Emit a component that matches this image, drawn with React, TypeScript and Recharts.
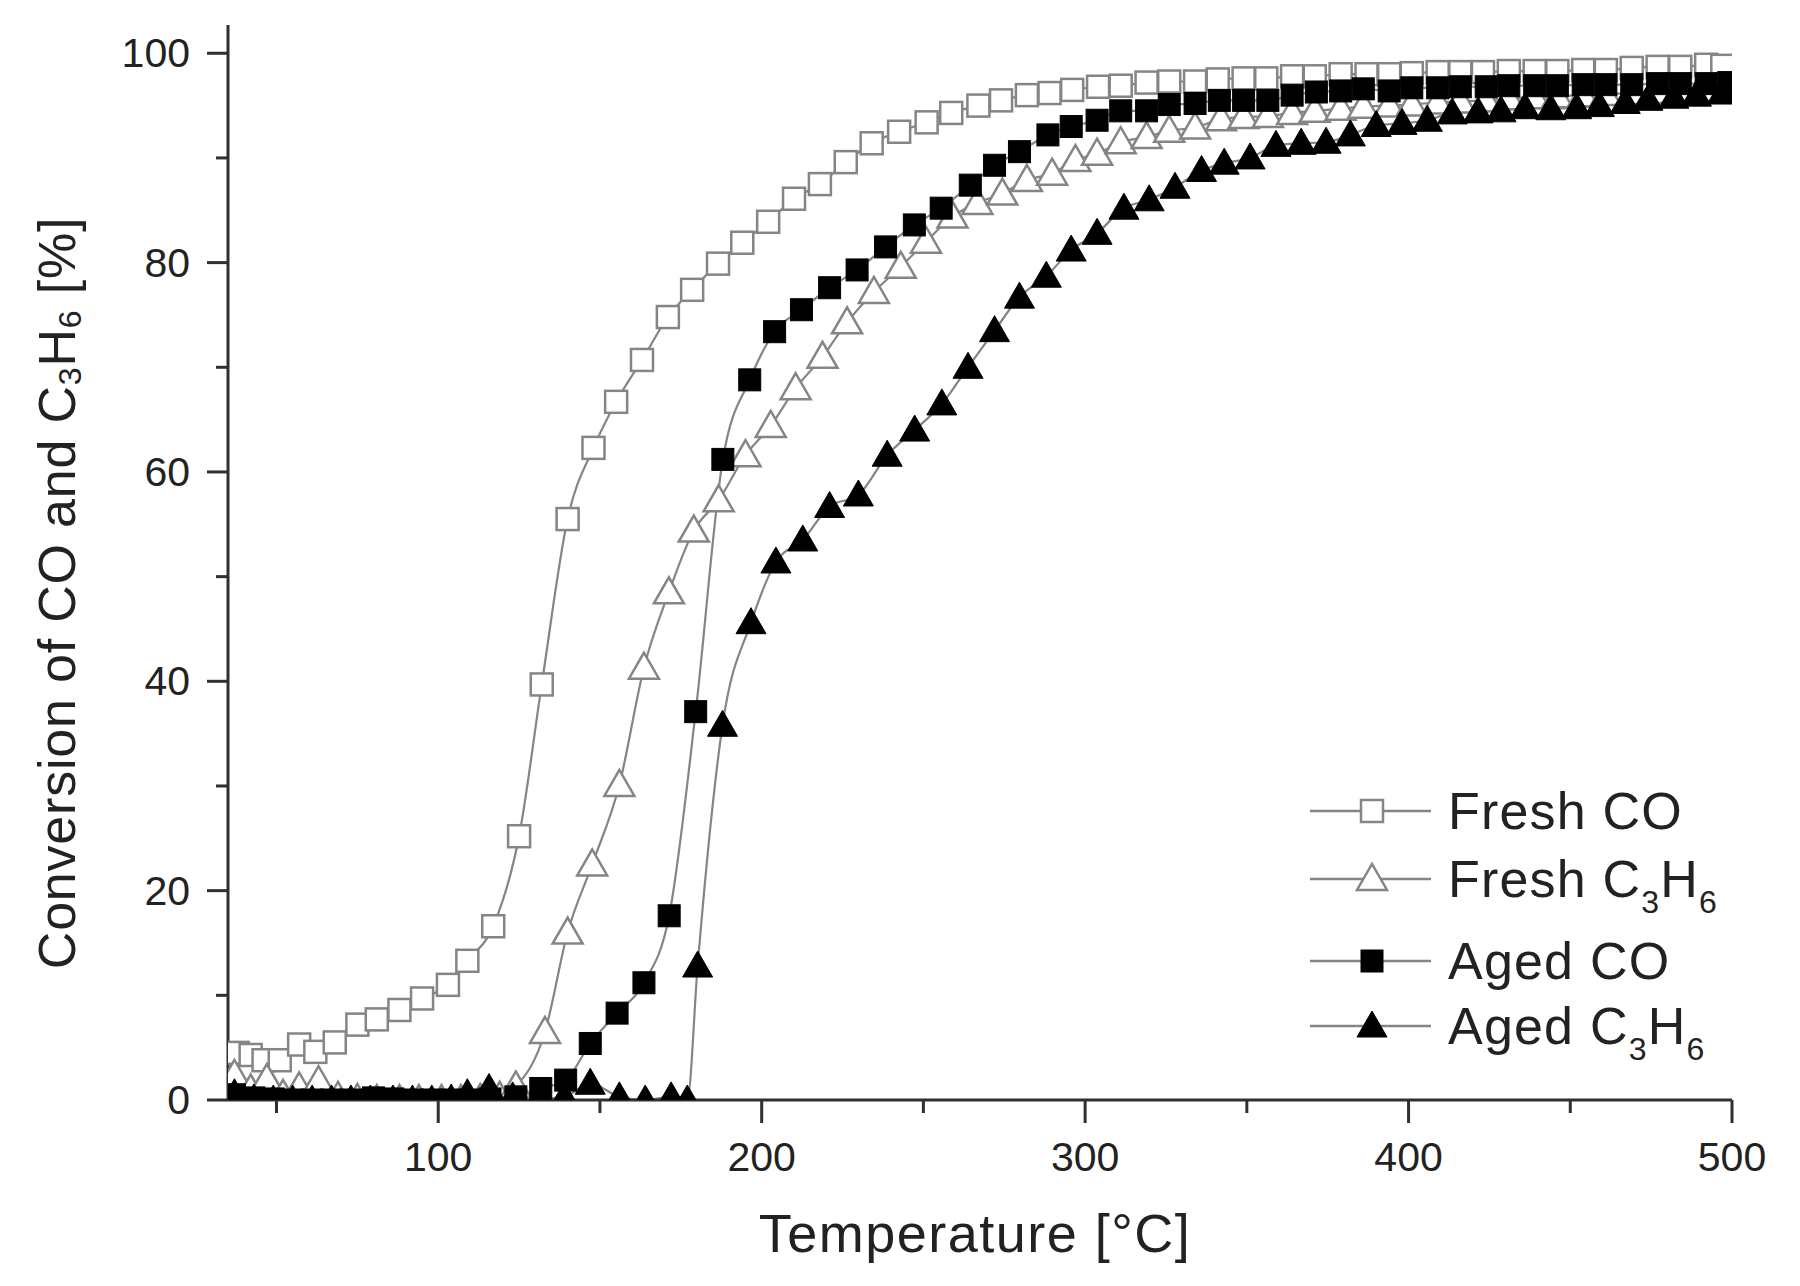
import React from "react";
import { LineChart, Line, XAxis, YAxis, Legend } from "recharts";

// temperatures [°C] and conversions [%]
const freshCOTemp = [38, 42, 46, 51, 57, 62, 68, 75, 81, 88, 95, 103, 109, 117, 125, 132, 140, 148, 155, 163, 171, 178.5, 186.5, 194, 202, 210, 218, 226, 234, 242.5, 251, 258.6, 267, 274, 282, 289, 296, 304, 311, 319, 326, 334, 341, 349, 356, 364, 371, 379, 387, 394, 401, 409, 416, 423, 431, 439, 446, 454, 461, 469, 477, 484, 492, 497];
const freshCOConv = [4.5, 4.3, 3.8, 3.8, 5.3, 4.6, 5.5, 7.2, 7.7, 8.6, 9.7, 11.0, 13.3, 16.6, 25.2, 39.7, 55.5, 62.3, 66.7, 70.7, 74.8, 77.4, 79.9, 81.9, 83.9, 86.1, 87.5, 89.6, 91.4, 92.5, 93.4, 94.3, 95.0, 95.5, 96.0, 96.2, 96.5, 96.8, 96.9, 97.2, 97.3, 97.3, 97.5, 97.6, 97.6, 97.8, 97.8, 98.0, 98.0, 98.0, 98.1, 98.2, 98.2, 98.2, 98.3, 98.3, 98.3, 98.4, 98.4, 98.6, 98.7, 98.7, 98.9, 98.8];

const freshC3H6Temp = [37, 42, 47, 52, 57, 63, 69, 75, 81, 88, 94, 101, 107, 113, 119, 124, 133, 140, 147.6, 156, 163.6, 171.3, 179, 186.7, 195, 202.8, 210.5, 218.8, 226.4, 234.7, 243, 250.8, 259, 266.7, 274.4, 282, 289.8, 297, 303.7, 311, 319, 326, 334, 342, 349, 356.5, 364, 371, 379, 386, 394, 401, 409, 416, 424, 431, 439, 446, 454, 461, 469, 477, 484, 492, 499];
const freshC3H6Conv = [2.4, 1.0, 2.0, 0.5, 1.2, 1.8, 0.3, 0.1, 0, 0, 0, 0, 0, 0.1, 0.3, 1.3, 6.5, 16.0, 22.5, 30.1, 41.3, 48.5, 54.4, 57.3, 61.6, 64.4, 68.0, 71.0, 74.3, 77.2, 79.6, 82.0, 84.4, 85.7, 86.6, 87.9, 88.5, 89.8, 90.4, 91.5, 92.0, 92.6, 92.9, 93.7, 93.9, 94.0, 94.3, 94.5, 94.7, 94.9, 95.0, 95.1, 95.3, 95.4, 95.5, 95.7, 95.8, 95.9, 96.0, 96.1, 96.2, 96.3, 96.4, 96.5, 96.6];

const agedCOTemp = [37, 43, 49, 55, 61, 67, 73, 80, 86, 92, 98, 104, 110, 116, 124, 131.7, 139.4, 147, 155.3, 163.6, 171.4, 179.6, 188, 196.3, 204, 212.3, 221, 229.5, 238.3, 247.2, 255.5, 264.5, 272, 279.7, 288.5, 295.7, 303.7, 311, 319, 326, 334, 341.5, 349, 356.5, 364, 371.5, 379, 386, 394, 401, 409, 416, 424, 431, 439, 446, 454, 461, 469, 477, 484, 492, 499];
const agedCOConv = [0.5, 0.2, 0.1, 0, 0, 0, 0, 0.2, 0.1, 0, 0, 0, 0, 0.1, 0.3, 1.1, 1.9, 5.4, 8.3, 11.2, 17.6, 37.1, 61.2, 68.8, 73.4, 75.5, 77.6, 79.3, 81.5, 83.6, 85.2, 87.4, 89.3, 90.6, 92.2, 93.0, 93.6, 94.5, 94.5, 95.1, 95.2, 95.5, 95.5, 95.5, 96.0, 96.3, 96.4, 96.6, 96.4, 96.7, 96.7, 96.8, 96.8, 96.9, 96.9, 96.9, 97.0, 97.0, 97.0, 97.1, 97.1, 97.1, 97.2];

const agedC3H6Temp = [37, 43, 49, 55, 61, 67, 73, 79, 86, 92, 98, 104, 109, 115.7, 123, 131, 139, 147, 156, 164, 172, 177, 180.2, 187.9, 196.7, 204.4, 212.7, 221, 229.9, 238.8, 247.3, 255.7, 263.8, 272, 279.7, 288, 295.7, 303.7, 312, 319.8, 327.8, 336, 343, 351, 359, 366.8, 374.5, 382, 390, 398, 405.8, 413.5, 421.5, 428.6, 436, 444, 452, 459, 467, 474, 482, 489, 497];
const agedC3H6Conv = [0.6, 0.1, 0, 0, 0, 0, 0, 0, 0, 0, 0, 0.1, 0.6, 1.1, 0.3, 0.1, 0.3, 1.6, 0.3, 0, 0.3, 0, 12.8, 35.8, 45.6, 51.4, 53.5, 56.7, 57.8, 61.6, 64.0, 66.5, 70.0, 73.5, 76.7, 78.7, 81.2, 82.8, 85.2, 86.0, 87.2, 88.8, 89.5, 90.0, 91.2, 91.4, 91.5, 92.2, 93.1, 93.3, 93.6, 94.3, 94.4, 94.5, 94.8, 94.7, 94.8, 95.0, 95.3, 95.6, 95.8, 96.0, 96.2];

const xTicks = [50, 100, 150, 200, 250, 300, 350, 400, 450, 500];
const yTicks = [0, 10, 20, 30, 40, 50, 60, 70, 80, 90, 100];

const toPoints = (temp: number[], conv: number[]) => temp.map((t, i) => ({ t, v: conv[i] }));

const FONT = "'Liberation Sans', Arial, sans-serif";
const TEXT = "#222";
const AXIS = "#303030";
const LINE = "#858585";

// markers
const HollowSquare = ({ cx, cy }: any) => (
  <rect x={cx - 11} y={cy - 11} width={22} height={22} fill="#fff" stroke={LINE} strokeWidth={2.5} />
);
const HollowTriangle = ({ cx, cy }: any) => (
  <polygon points={`${cx},${cy - 15} ${cx - 15},${cy + 11} ${cx + 15},${cy + 11}`} fill="#fff" stroke={LINE} strokeWidth={2.5} />
);
const FilledSquare = ({ cx, cy }: any) => (
  <rect x={cx - 11} y={cy - 11} width={22} height={22} fill="#000" stroke="#000" strokeWidth={1} />
);
const FilledTriangle = ({ cx, cy }: any) => (
  <polygon points={`${cx},${cy - 15} ${cx - 15},${cy + 11} ${cx + 15},${cy + 11}`} fill="#000" stroke="#000" strokeWidth={1} />
);

const markerFor: Record<string, any> = {
  freshCO: HollowSquare,
  freshC3H6: HollowTriangle,
  agedCO: FilledSquare,
  agedC3H6: FilledTriangle,
};

const dotFor = (id: string) => (p: any) => {
  const M = markerFor[id];
  if (p.cx == null || p.cy == null) return <g key={`${id}-${p.index}`} />;
  return (
    <g key={`${id}-${p.index}`}>
      <M cx={p.cx} cy={p.cy} />
    </g>
  );
};

const XTick = ({ x, y, payload }: any) => {
  const major = payload.value % 100 === 0;
  return (
    <g>
      <line x1={x} x2={x} y1={y} y2={y + (major ? 23 : 13)} stroke={AXIS} strokeWidth={3} />
      {major && (
        <text x={x} y={y + 71} textAnchor="middle" fontSize={41} fontFamily={FONT} fill={TEXT}>
          {payload.value}
        </text>
      )}
    </g>
  );
};

const YTick = ({ x, y, payload }: any) => {
  const major = payload.value % 20 === 0;
  return (
    <g>
      <line x1={x} x2={x - (major ? 21 : 12)} y1={y} y2={y} stroke={AXIS} strokeWidth={3} />
      {major && (
        <text x={x - 38} y={y + 14} textAnchor="end" fontSize={41} fontFamily={FONT} fill={TEXT}>
          {payload.value}
        </text>
      )}
    </g>
  );
};

// text pieces: odd entries are subscripts
const renderPieces = (pieces: string[], subSize: number, shift: number) =>
  pieces.map((s, i) => {
    const isSub = i % 2 === 1;
    const dy = isSub ? shift : i > 0 ? -shift : 0;
    return (
      <tspan key={i} dy={dy} fontSize={isSub ? subSize : undefined}>
        {s}
      </tspan>
    );
  });

const yTitle = ["Conversion of CO and C", "3", "H", "6", " [%]"];

const legendRows = [
  { id: "freshCO", label: ["Fresh CO"], y: 51 },
  { id: "freshC3H6", label: ["Fresh C", "3", "H", "6"], y: 119 },
  { id: "agedCO", label: ["Aged CO"], y: 201 },
  { id: "agedC3H6", label: ["Aged C", "3", "H", "6"], y: 266 },
];

const ChartLegend = () => (
  <svg width={480} height={310}>
    {legendRows.map((r) => {
      const M = markerFor[r.id];
      return (
        <g key={r.id}>
          <line x1={10} x2={131} y1={r.y} y2={r.y} stroke={LINE} strokeWidth={2.5} />
          <M cx={72} cy={r.y} />
          <text x={148} y={r.y + 18} fontSize={52} letterSpacing={1.2} fontFamily={FONT} fill={TEXT}>
            {renderPieces(r.label, 32, 16)}
          </text>
        </g>
      );
    })}
  </svg>
);

export default function App() {
  return (
    <div style={{ position: "absolute", left: 0, top: 0, width: 1800, height: 1286, background: "#fff" }}>
      <LineChart width={1800} height={1286} margin={{ top: 25, right: 68, bottom: 0, left: 0 }}>
        <XAxis
          type="number"
          dataKey="t"
          domain={[35, 500]}
          ticks={xTicks}
          allowDataOverflow
          height={186}
          tickSize={0}
          tickMargin={0}
          tickLine={false}
          axisLine={{ stroke: AXIS, strokeWidth: 3 }}
          tick={<XTick />}
          label={{
            content: () => (
              <text x={975} y={1252} textAnchor="middle" fontSize={54} letterSpacing={1.5} fontFamily={FONT} fill={TEXT}>
                Temperature [°C]
              </text>
            ),
          }}
        />
        <YAxis
          type="number"
          dataKey="v"
          domain={[0, 102.7]}
          ticks={yTicks}
          allowDataOverflow
          width={228}
          tickSize={0}
          tickMargin={0}
          tickLine={false}
          axisLine={{ stroke: AXIS, strokeWidth: 3 }}
          tick={<YTick />}
          label={{
            content: () => (
              <text
                x={57}
                y={593}
                transform="rotate(-90 57 593)"
                textAnchor="middle"
                dominantBaseline="central"
                fontSize={52}
                letterSpacing={0.8}
                fontFamily={FONT}
                fill={TEXT}
              >
                {renderPieces(yTitle, 32, 13)}
              </text>
            ),
          }}
        />
        <Legend
          layout="vertical"
          align="center"
          verticalAlign="middle"
          content={<ChartLegend />}
          wrapperStyle={{ left: 1300, top: 760, width: 480, height: 310 }}
        />
        <Line
          name="Fresh CO"
          data={toPoints(freshCOTemp, freshCOConv)}
          dataKey="v"
          type="monotone"
          stroke={LINE}
          strokeWidth={2.2}
          dot={dotFor("freshCO")}
          activeDot={false}
          isAnimationActive={false}
        />
        <Line
          name="Fresh C3H6"
          data={toPoints(freshC3H6Temp, freshC3H6Conv)}
          dataKey="v"
          type="monotone"
          stroke={LINE}
          strokeWidth={2.2}
          dot={dotFor("freshC3H6")}
          activeDot={false}
          isAnimationActive={false}
        />
        <Line
          name="Aged CO"
          data={toPoints(agedCOTemp, agedCOConv)}
          dataKey="v"
          type="monotone"
          stroke={LINE}
          strokeWidth={2.2}
          dot={dotFor("agedCO")}
          activeDot={false}
          isAnimationActive={false}
        />
        <Line
          name="Aged C3H6"
          data={toPoints(agedC3H6Temp, agedC3H6Conv)}
          dataKey="v"
          type="monotone"
          stroke={LINE}
          strokeWidth={2.2}
          dot={dotFor("agedC3H6")}
          activeDot={false}
          isAnimationActive={false}
        />
      </LineChart>
    </div>
  );
}
